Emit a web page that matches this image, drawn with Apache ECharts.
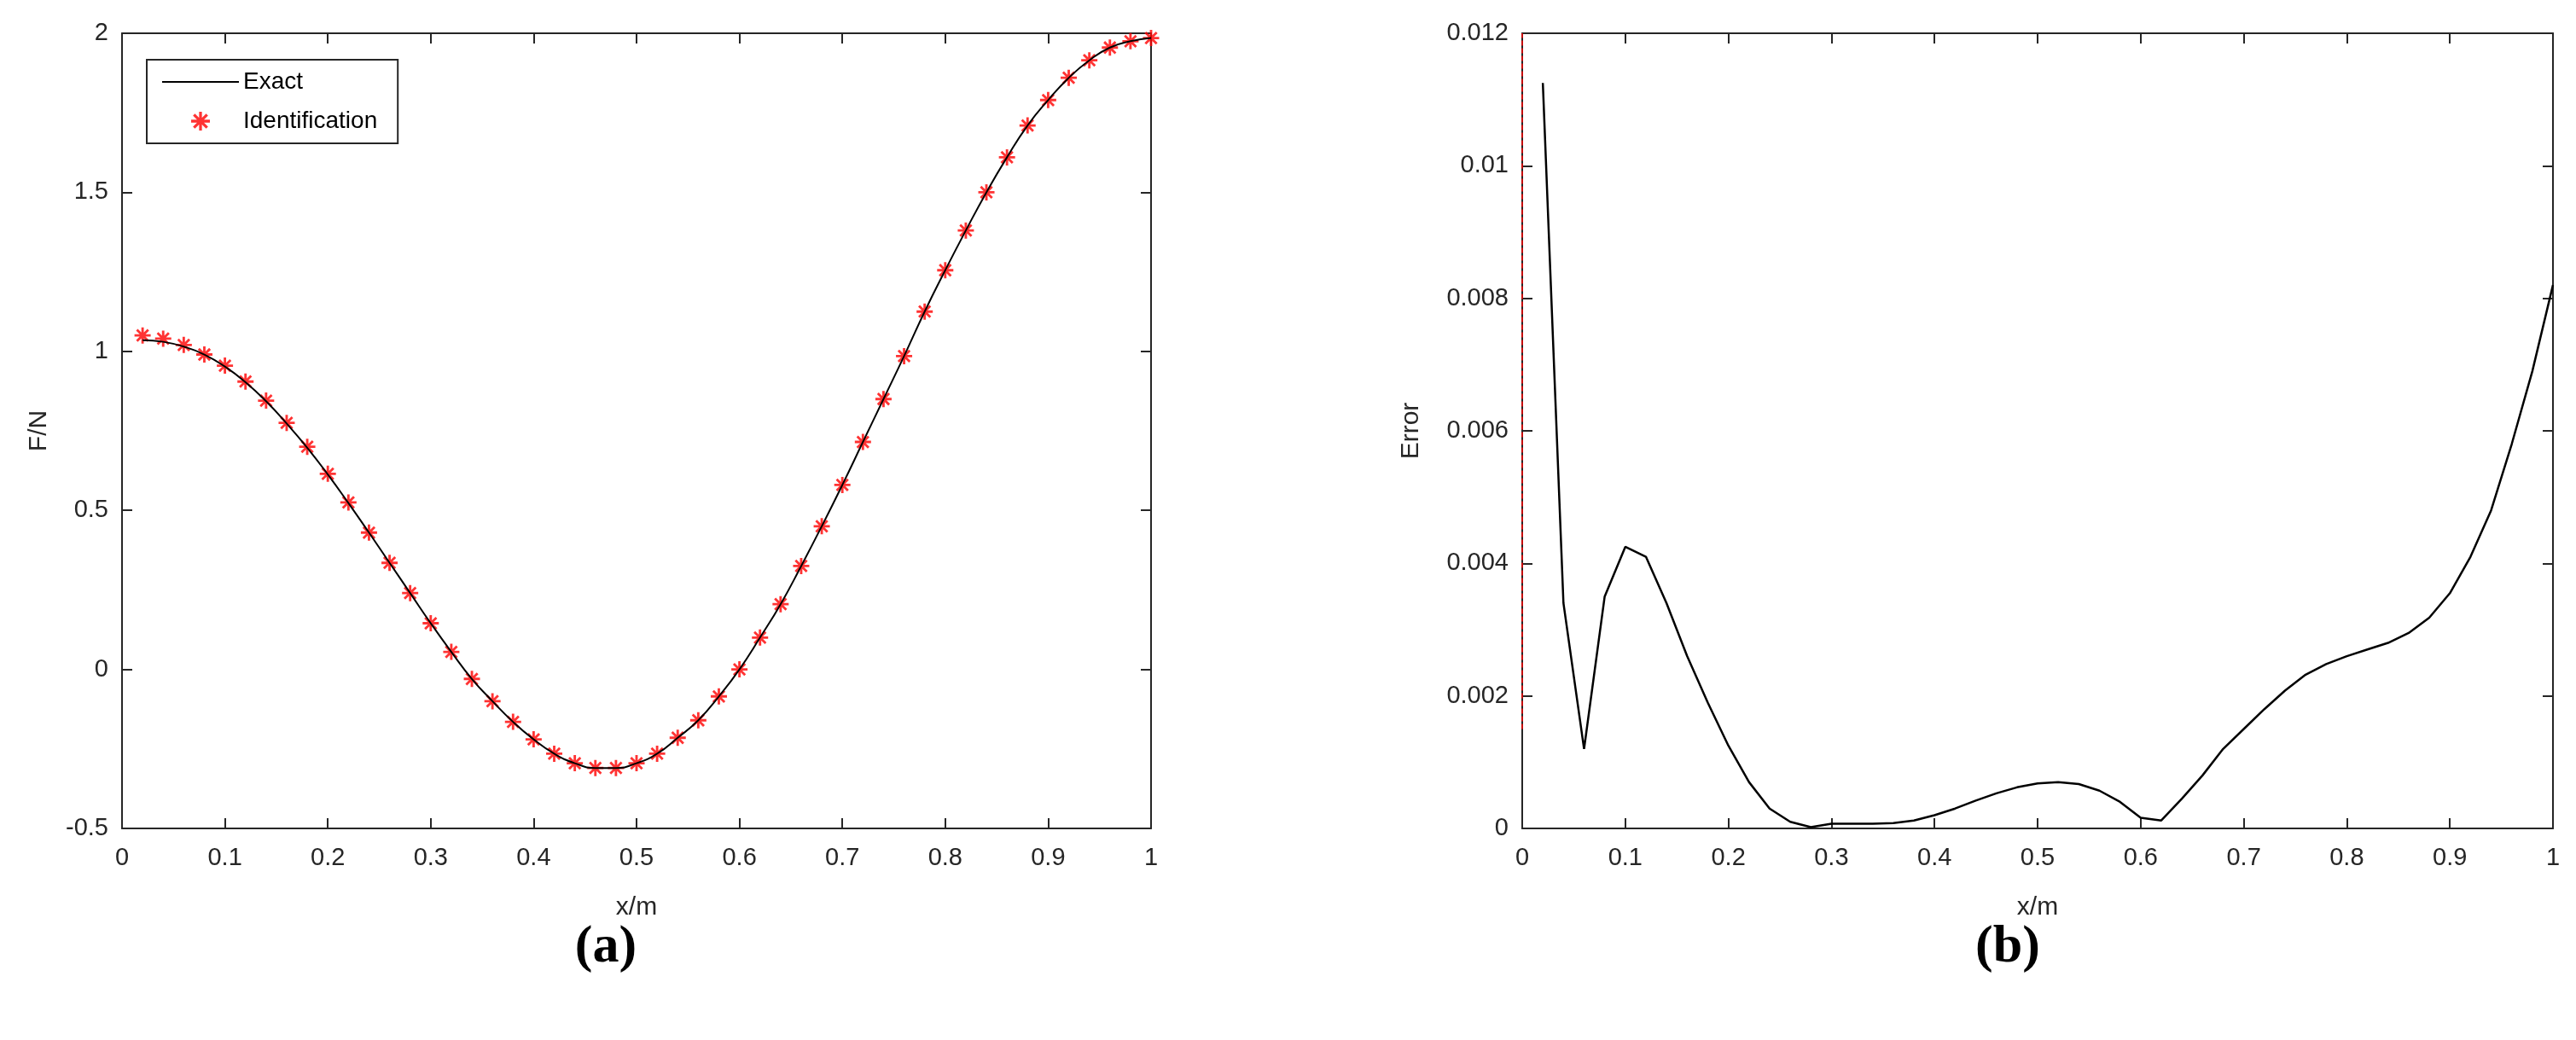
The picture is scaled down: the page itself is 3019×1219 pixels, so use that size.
<!DOCTYPE html>
<html><head><meta charset="utf-8">
<script src="https://cdn.jsdelivr.net/npm/echarts@6/dist/echarts.min.js"></script>
<style>html,body{margin:0;padding:0;background:#fff}#chart{width:3019px;height:1219px}</style>
</head><body><div id="chart"></div>
<script>
// 数据
var xs = [0.02,0.04,0.06,0.08,0.10,0.12,0.14,0.16,0.18,0.20,0.22,0.24,0.26,0.28,0.30,0.32,0.34,0.36,0.38,0.40,0.42,0.44,0.46,0.48,0.50,0.52,0.54,0.56,0.58,0.60,0.62,0.64,0.66,0.68,0.70,0.72,0.74,0.76,0.78,0.80,0.82,0.84,0.86,0.88,0.90,0.92,0.94,0.96,0.98,1.00];
var identified = [1.05,1.04,1.02,0.99,0.955,0.905,0.845,0.775,0.70,0.615,0.525,0.43,0.335,0.24,0.145,0.055,-0.03,-0.10,-0.165,-0.22,-0.265,-0.295,-0.31,-0.31,-0.295,-0.265,-0.215,-0.16,-0.085,0.0,0.10,0.205,0.325,0.45,0.58,0.715,0.85,0.985,1.125,1.255,1.38,1.50,1.61,1.71,1.79,1.86,1.915,1.955,1.975,1.985];
var exact = [1.035,1.03,1.015,0.99,0.952,0.903,0.843,0.773,0.697,0.613,0.523,0.43,0.335,0.24,0.145,0.055,-0.03,-0.10,-0.165,-0.22,-0.265,-0.295,-0.31,-0.31,-0.295,-0.265,-0.215,-0.16,-0.085,0.0,0.10,0.205,0.325,0.45,0.58,0.715,0.85,0.985,1.125,1.255,1.38,1.50,1.61,1.71,1.79,1.86,1.915,1.955,1.975,1.985];
var errors = [0.01125,0.0034,0.0012,0.0035,0.00425,0.0041,0.0034,0.0026,0.0019,0.00125,0.0007,0.0003,0.0001,0.00002,0.00007,0.00007,0.00007,0.00008,0.00012,0.0002,0.0003,0.00042,0.00053,0.00062,0.00068,0.0007,0.00067,0.00057,0.0004,0.00016,0.00012,0.00045,0.0008,0.0012,0.0015,0.0018,0.00208,0.00232,0.00248,0.0026,0.0027,0.0028,0.00295,0.00318,0.00355,0.0041,0.0048,0.0058,0.0069,0.0082];
var redEdge = [[0,0.0015],[0,0.012]];

var font = 'Liberation Sans';
var star = 'path://M0,0.85L2,0.85L2,1.15L0,1.15Z M0.85,0L1.15,0L1.15,2L0.85,2Z M0.194,0.406L0.406,0.194L1.806,1.594L1.594,1.806Z M1.594,0.194L1.806,0.406L0.406,1.806L0.194,1.594Z';
function pairs(a){ return xs.map(function(x,i){ return [x,a[i]]; }); }

var line = {onZero:false,lineStyle:{color:'#262626',width:2}};
var tick = {inside:true,length:12,lineStyle:{color:'#262626',width:2}};

function xAx(g){
  return [{type:'value',gridIndex:g,min:0,max:1,interval:0.1,name:'x/m',nameLocation:'middle',nameGap:78,
    nameTextStyle:{fontFamily:font,fontSize:30,color:'#262626'},
    axisLine:line,axisTick:tick,
    axisLabel:{fontFamily:font,fontSize:29,color:'#262626',margin:20,formatter:function(v){return String(+v.toFixed(2));}},splitLine:{show:false}},
   {type:'value',gridIndex:g,position:'top',min:0,max:1,interval:0.1,
    axisLine:line,axisTick:tick,axisLabel:{show:false},splitLine:{show:false}}];
}
function yAx(g,min,max,iv,name,gap){
  return [{type:'value',gridIndex:g,position:'left',min:min,max:max,interval:iv,name:name,nameLocation:'middle',nameGap:gap,
    nameTextStyle:{fontFamily:font,fontSize:30,color:'#262626'},
    axisLine:{show:true,onZero:false,lineStyle:{color:'#262626',width:2}},axisTick:tick,
    axisLabel:{fontFamily:font,fontSize:29,color:'#262626',margin:16,formatter:function(v){return String(+v.toFixed(4));}},splitLine:{show:false}},
   {type:'value',gridIndex:g,position:'right',min:min,max:max,interval:iv,
    axisLine:{show:true,onZero:false,lineStyle:{color:'#262626',width:2}},axisTick:tick,
    axisLabel:{show:false},splitLine:{show:false}}];
}

var chart = echarts.init(document.getElementById('chart'));
chart.setOption({
  animation:false,
  backgroundColor:'#fff',
  title:[
    {text:'(a)',left:705,top:1075,textAlign:'center',textStyle:{fontFamily:'Liberation Serif',fontSize:62,fontWeight:'bold',color:'#000'}},
    {text:'(b)',left:2348,top:1075,textAlign:'center',textStyle:{fontFamily:'Liberation Serif',fontSize:62,fontWeight:'bold',color:'#000'}}
  ],
  grid:[{left:143,top:39,width:1206,height:932},{left:1784,top:39,width:1208,height:932}],
  legend:{left:172,top:70,orient:'vertical',backgroundColor:'#fff',borderColor:'#262626',borderWidth:2,borderRadius:0,
    padding:[12,24,12,18],itemGap:18,itemWidth:90,itemHeight:22,
    textStyle:{fontFamily:font,fontSize:28,color:'#000'},
    data:[{name:'Exact',icon:'path://M0,10L90,10L90,12L0,12Z'},{name:'Identification'}]},
  xAxis:xAx(0).concat(xAx(1)),
  yAxis:yAx(0,-0.5,2,0.5,'F/N',82).concat(yAx(1,0,0.012,0.002,'Error',115)),
  series:[
    {name:'Exact',type:'line',xAxisIndex:0,yAxisIndex:0,data:pairs(exact),smooth:true,showSymbol:false,symbol:'none',
      lineStyle:{color:'#000',width:2},itemStyle:{color:'#000'}},
    {name:'Identification',type:'scatter',xAxisIndex:0,yAxisIndex:0,data:pairs(identified),symbol:star,symbolSize:19,
      itemStyle:{color:'#ff0000'}},
    {name:'err',type:'line',xAxisIndex:2,yAxisIndex:2,data:pairs(errors),showSymbol:false,symbol:'none',
      lineStyle:{color:'#000',width:2.5}},
    {name:'edge',type:'line',xAxisIndex:2,yAxisIndex:2,data:redEdge,showSymbol:false,symbol:'none',
      lineStyle:{color:'#ff0000',width:1.5,type:'dashed'},z:3}
  ]
});
</script></body></html>
